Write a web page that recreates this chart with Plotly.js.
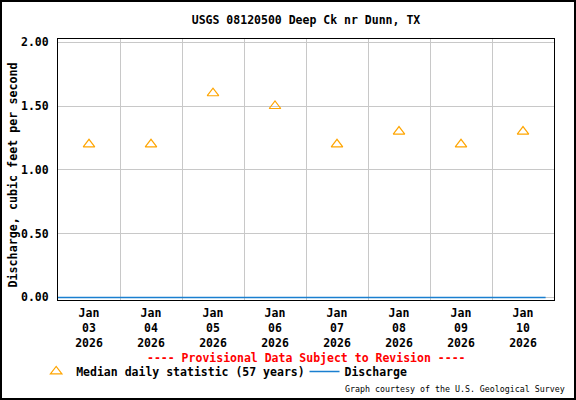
<!DOCTYPE html>
<html>
<head>
<meta charset="utf-8">
<script src="https://cdn.plot.ly/plotly-3.0.1.min.js"></script>
<style>
  html, body { margin: 0; padding: 0; background: #fff; }
  #wrap { position: relative; width: 576px; height: 400px; }
  #chart { width: 576px; height: 400px; }
  #frame { position: absolute; left: 0; top: 0; width: 576px; height: 400px; box-sizing: border-box; border: 2px solid #000; pointer-events: none; }
</style>
</head>
<body>
<div id="wrap"><div id="chart"></div><div id="frame"></div></div>
<script>
// ---- data ----
const medianDates = ['2026-01-03 12:00', '2026-01-04 12:00', '2026-01-05 12:00', '2026-01-06 12:00',
                     '2026-01-07 12:00', '2026-01-08 12:00', '2026-01-09 12:00', '2026-01-10 12:00'];
const medianValues = [1.2, 1.2, 1.6, 1.5, 1.2, 1.3, 1.2, 1.3];

const dischargeTimes = ['2026-01-03 00:00', '2026-01-04 00:00', '2026-01-05 00:00', '2026-01-06 00:00',
                        '2026-01-07 00:00', '2026-01-08 00:00', '2026-01-09 00:00', '2026-01-10 00:00',
                        '2026-01-10 20:45'];
const dischargeValues = [0, 0, 0, 0, 0, 0, 0, 0, 0];

const xTickVals = medianDates;
const xTickText = ['Jan<br>03<br>2026', 'Jan<br>04<br>2026', 'Jan<br>05<br>2026', 'Jan<br>06<br>2026',
                   'Jan<br>07<br>2026', 'Jan<br>08<br>2026', 'Jan<br>09<br>2026', 'Jan<br>10<br>2026'];
const yTickVals = [0, 0.5, 1.0, 1.5, 2.0];
const yTickText = ['0.00', '0.50', '1.00', '1.50', '2.00'];

const chartTitle = 'USGS 08120500 Deep Ck nr Dunn, TX';
const yTitle = 'Discharge, cubic feet per second';
const provisionalNote = '---- Provisional Data Subject to Revision ----';
const courtesyNote = 'Graph courtesy of the U.S. Geological Survey';
const medianName = 'Median daily statistic (57 years)';
const dischargeName = 'Discharge';

// ---- chart ----
const MONO = '"DejaVu Sans Mono", "Liberation Mono", monospace';
const boldFont = { family: MONO, size: 11.5, color: '#000', weight: 'bold' };

const traces = [
  {
    x: medianDates, y: medianValues, name: medianName, type: 'scatter', mode: 'markers',
    marker: { symbol: 'triangle-up-open', size: 10, color: '#FFA500', line: { width: 1.2 } },
    legend: 'legend', hoverinfo: 'x+y'
  },
  {
    x: dischargeTimes, y: dischargeValues, name: dischargeName, type: 'scatter', mode: 'lines',
    line: { color: '#1a7fd0', width: 1.5 },
    legend: 'legend2', hoverinfo: 'x+y'
  }
];

const layout = {
  width: 576, height: 400,
  margin: { l: 58, r: 22, t: 39, b: 100, autoexpand: false },
  paper_bgcolor: '#fff', plot_bgcolor: '#fff',
  font: boldFont,
  title: { text: chartTitle, font: boldFont, x: 0.5, xref: 'paper', xanchor: 'center',
           y: 0.95, yref: 'container', yanchor: 'middle' },
  xaxis: {
    type: 'date', range: ['2026-01-03', '2026-01-11'], automargin: false,
    tickmode: 'array', tickvals: xTickVals, ticktext: xTickText,
    ticks: '', showgrid: false, zeroline: false,
    showline: true, mirror: true, linecolor: '#000', linewidth: 1,
    tickfont: boldFont, ticklabelstandoff: 2,
    minor: { dtick: 86400000, tick0: '2026-01-03', showgrid: true, gridcolor: '#c8c8c8', gridwidth: 1, ticks: '' }
  },
  yaxis: {
    range: [-0.02, 2.025], automargin: false,
    tickmode: 'array', tickvals: yTickVals, ticktext: yTickText,
    ticks: '', showgrid: true, gridcolor: '#c8c8c8', gridwidth: 1, zeroline: false,
    showline: true, mirror: true, linecolor: '#000', linewidth: 1,
    tickfont: boldFont, ticklabelstandoff: 6
  },
  showlegend: true,
  legend: {
    orientation: 'h', x: -0.044, xanchor: 'left', y: -0.218, yanchor: 'top',
    font: boldFont, bgcolor: 'rgba(0,0,0,0)', itemclick: false, itemdoubleclick: false
  },
  legend2: {
    orientation: 'h', x: 0.497, xanchor: 'left', y: -0.218, yanchor: 'top',
    font: boldFont, bgcolor: 'rgba(0,0,0,0)', itemclick: false, itemdoubleclick: false
  },
  annotations: [
    { text: yTitle, xref: 'paper', yref: 'paper', x: -0.0927, y: 0.477, textangle: -90,
      xanchor: 'center', yanchor: 'middle', showarrow: false,
      font: { family: MONO, size: 11.7, color: '#000', weight: 'bold' } },
    { text: provisionalNote, xref: 'paper', yref: 'paper', x: 0.5, y: -0.222,
      xanchor: 'center', yanchor: 'middle', showarrow: false,
      font: { family: MONO, size: 11.5, color: '#ff0000', weight: 'bold' } },
    { text: courtesyNote, xref: 'paper', yref: 'paper', x: 1.026, y: -0.341,
      xanchor: 'right', yanchor: 'middle', showarrow: false,
      font: { family: MONO, size: 8.3, color: '#000', weight: 'normal' } }
  ]
};

Plotly.newPlot('chart', traces, layout, { displayModeBar: false });
</script>
</body>
</html>
